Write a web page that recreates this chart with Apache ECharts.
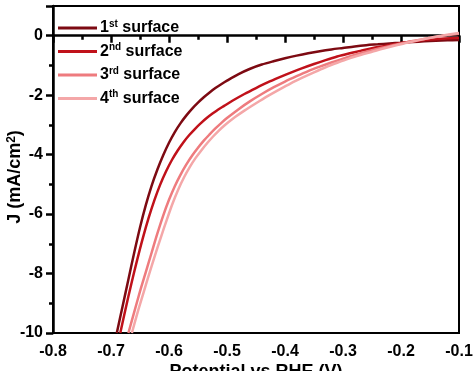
<!DOCTYPE html>
<html><head><meta charset="utf-8">
<script src="https://cdn.jsdelivr.net/npm/echarts@6/dist/echarts.min.js"></script>
<style>html,body{margin:0;padding:0;background:#fff}#c{width:474px;height:371px}</style>
</head><body><div id="c"></div>
<script>
const seriesNames = ['1st surface', '2nd surface', '3rd surface', '4th surface'];
const legendParts = [['1','st'],['2','nd'],['3','rd'],['4','th']];
const xTicks = [-0.8,-0.7,-0.6,-0.5,-0.4,-0.3,-0.2,-0.1];
const yTicks = [-10,-8,-6,-4,-2,0];

const surface1 = [[-0.690,-10],[-0.680,-9.1],[-0.670,-8.2],[-0.660,-7.3],[-0.650,-6.45],[-0.640,-5.7],[-0.630,-5.05],[-0.620,-4.5],[-0.610,-4.02],[-0.600,-3.6],[-0.590,-3.24],[-0.580,-2.94],[-0.570,-2.68],[-0.560,-2.45],[-0.550,-2.25],[-0.540,-2.07],[-0.530,-1.91],[-0.520,-1.76],[-0.510,-1.63],[-0.500,-1.51],[-0.480,-1.29],[-0.460,-1.11],[-0.440,-0.97],[-0.420,-0.86],[-0.400,-0.76],[-0.380,-0.67],[-0.360,-0.59],[-0.340,-0.52],[-0.320,-0.46],[-0.300,-0.41],[-0.280,-0.36],[-0.260,-0.32],[-0.240,-0.29],[-0.220,-0.26],[-0.200,-0.235],[-0.180,-0.21],[-0.160,-0.19],[-0.140,-0.17],[-0.120,-0.155],[-0.100,-0.14]];
const surface2 = [[-0.684,-10],[-0.675,-9.2],[-0.665,-8.35],[-0.655,-7.55],[-0.645,-6.8],[-0.635,-6.12],[-0.625,-5.52],[-0.615,-5.0],[-0.605,-4.56],[-0.595,-4.18],[-0.585,-3.86],[-0.575,-3.58],[-0.565,-3.34],[-0.555,-3.13],[-0.545,-2.94],[-0.535,-2.77],[-0.525,-2.62],[-0.515,-2.48],[-0.505,-2.36],[-0.490,-2.18],[-0.470,-1.96],[-0.450,-1.76],[-0.430,-1.57],[-0.410,-1.40],[-0.390,-1.24],[-0.370,-1.09],[-0.350,-0.95],[-0.330,-0.82],[-0.310,-0.70],[-0.290,-0.60],[-0.270,-0.51],[-0.250,-0.42],[-0.230,-0.35],[-0.210,-0.28],[-0.190,-0.22],[-0.170,-0.17],[-0.150,-0.13],[-0.130,-0.10],[-0.110,-0.08],[-0.100,-0.07]];
const surface3 = [[-0.670,-10],[-0.660,-9.3],[-0.650,-8.6],[-0.640,-7.95],[-0.630,-7.3],[-0.620,-6.65],[-0.610,-6.05],[-0.600,-5.52],[-0.590,-5.06],[-0.580,-4.67],[-0.570,-4.33],[-0.560,-4.03],[-0.550,-3.77],[-0.540,-3.53],[-0.530,-3.32],[-0.520,-3.12],[-0.510,-2.94],[-0.500,-2.77],[-0.480,-2.47],[-0.460,-2.2],[-0.440,-1.96],[-0.420,-1.74],[-0.400,-1.54],[-0.380,-1.36],[-0.360,-1.19],[-0.340,-1.04],[-0.320,-0.90],[-0.300,-0.77],[-0.280,-0.65],[-0.260,-0.54],[-0.240,-0.44],[-0.220,-0.35],[-0.200,-0.26],[-0.180,-0.18],[-0.160,-0.11],[-0.140,-0.04],[-0.120,0.02],[-0.100,0.07]];
const surface4 = [[-0.664,-10],[-0.654,-9.3],[-0.644,-8.65],[-0.634,-8.0],[-0.624,-7.38],[-0.614,-6.78],[-0.604,-6.2],[-0.594,-5.65],[-0.584,-5.17],[-0.574,-4.76],[-0.564,-4.41],[-0.554,-4.11],[-0.544,-3.85],[-0.534,-3.61],[-0.524,-3.39],[-0.514,-3.19],[-0.504,-3.01],[-0.490,-2.79],[-0.470,-2.52],[-0.450,-2.27],[-0.430,-2.03],[-0.410,-1.81],[-0.390,-1.60],[-0.370,-1.41],[-0.350,-1.23],[-0.330,-1.06],[-0.310,-0.91],[-0.290,-0.77],[-0.270,-0.65],[-0.250,-0.54],[-0.230,-0.43],[-0.210,-0.33],[-0.190,-0.24],[-0.170,-0.15],[-0.150,-0.07],[-0.130,0.0],[-0.115,0.05],[-0.100,0.09]];

const allData = [surface1, surface2, surface3, surface4];
const colors = ['#7d0a12', '#c0111a', '#ee7b7e', '#f4a7a8'];
const FONT = 'Liberation Sans, Arial, sans-serif';

const chart = echarts.init(document.getElementById('c'), null, {renderer: 'canvas'});
chart.setOption({
  animation: false,
  backgroundColor: '#fff',
  grid: {left: 53, right: 15, top: 6, bottom: 38, show: true, borderColor: '#000', borderWidth: 2,
    backgroundColor: 'transparent', containLabel: false, outerBoundsMode: 'none'},
  legend: {
    orient: 'vertical', left: 53, top: 14, itemWidth: 39, itemHeight: 3, itemGap: 6.5,
    icon: 'rect',
    data: seriesNames,
    formatter: function (name) {
      const i = seriesNames.indexOf(name);
      return '{n|' + legendParts[i][0] + '}{s|' + legendParts[i][1] + '}{n| surface}';
    },
    textStyle: {
      fontFamily: FONT, fontWeight: 'bold', fontSize: 16, color: '#000', padding: [0, 0, 0, -2],
      rich: {
        n: {fontFamily: FONT, fontWeight: 'bold', fontSize: 16, color: '#000', lineHeight: 18},
        s: {fontFamily: FONT, fontWeight: 'bold', fontSize: 10, color: '#000', verticalAlign: 'top', lineHeight: 10}
      }
    }
  },
  xAxis: {
    type: 'value', min: -0.8, max: -0.1, interval: 0.1,
    name: 'Potential vs RHE (V)', nameLocation: 'middle', nameGap: 30, nameMoveOverlap: false,
    nameTextStyle: {fontFamily: FONT, fontWeight: 'bold', fontSize: 18, color: '#000'},
    axisLine: {lineStyle: {color: '#000', width: 2.5}},
    axisTick: {length: 7, lineStyle: {color: '#000', width: 2.5}},
    minorTick: {show: true, splitNumber: 2, length: 4, lineStyle: {color: '#000', width: 2.5}},
    splitLine: {show: false},
    axisLabel: {fontFamily: FONT, fontWeight: 'bold', fontSize: 16, color: '#000', margin: 11,
      formatter: function (v) { return v.toFixed(1); }}
  },
  yAxis: {
    type: 'value', min: -10, max: 1, interval: 2,
    name: 'J (mA/cm{s|2})   ', nameLocation: 'middle', nameGap: 29, nameMoveOverlap: false,
    nameTextStyle: {fontFamily: FONT, fontWeight: 'bold', fontSize: 18, color: '#000',
      rich: {
        s: {fontFamily: FONT, fontWeight: 'bold', fontSize: 12, color: '#000', verticalAlign: 'top', lineHeight: 12}
      }
    },
    axisLine: {lineStyle: {color: '#000', width: 2.5}},
    axisTick: {length: 7, lineStyle: {color: '#000', width: 2.5}},
    minorTick: {show: true, splitNumber: 2, length: 4, lineStyle: {color: '#000', width: 2.5}},
    splitLine: {show: false},
    axisLabel: {fontFamily: FONT, fontWeight: 'bold', fontSize: 16, color: '#000', margin: 10,
      formatter: function (v) { return yTicks.indexOf(Math.round(v)) >= 0 && Math.abs(v - Math.round(v)) < 1e-6 ? String(Math.round(v)) : ''; }}
  },
  series: allData.map((d, i) => ({
    name: seriesNames[i], type: 'line', data: d, smooth: 0.3,
    symbol: 'none', showSymbol: false, clip: true,
    lineStyle: {color: colors[i], width: 2.5}, itemStyle: {color: colors[i]}
  }))
});
</script></body></html>
